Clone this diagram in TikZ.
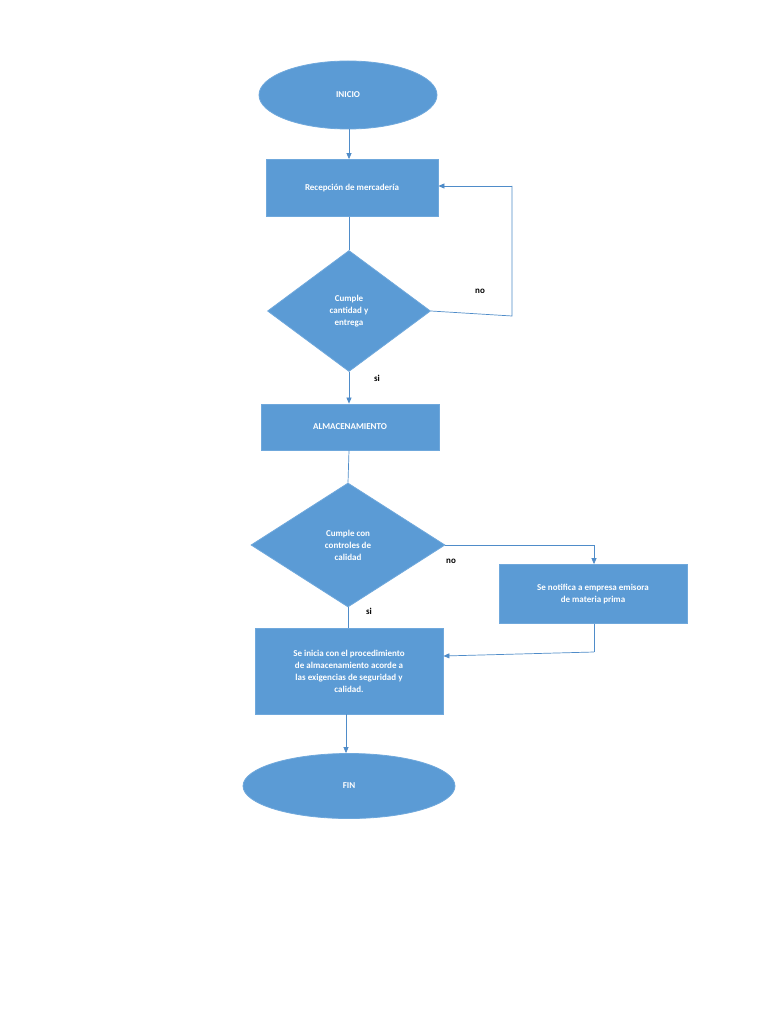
\documentclass[tikz,border=0pt]{standalone}
\usepackage{fontspec}
\setmainfont{Carlito}
\usetikzlibrary{shapes.geometric,arrows.meta}
\definecolor{fillb}{HTML}{5B9BD5}
\definecolor{lineb}{HTML}{6FA8DC}
\definecolor{edgeb}{HTML}{4F8CC9}
\tikzset{
 base/.style={fill=fillb,draw=lineb,line width=0.8pt,text=white,font=\bfseries\fontsize{9}{12}\selectfont,align=center,inner sep=0pt},
 terminal/.style={base,ellipse},
 proc/.style={base,rectangle},
 decis/.style={base,diamond},
 conn/.style={draw=edgeb,line width=0.7pt},
 arr/.style={conn,-{Triangle[length=6pt,width=5pt]}},
 lbl/.style={font=\bfseries\fontsize{9}{11}\selectfont}
}
\begin{document}
\begin{tikzpicture}[x=1pt,y=-1pt]
\useasboundingbox[fill=white] (0,0) rectangle (768,1024);
\node[terminal,minimum width=178,minimum height=68] (ini) at (348,95) {INICIO};
\node[proc,minimum width=172,minimum height=57] (rec) at (352,188) {Recepción de mercadería};
\node[decis,minimum width=163,minimum height=121] (d1) at (349,311) {Cumple\\cantidad y\\entrega};
\node[proc,minimum width=178,minimum height=46] (alm) at (350,427) {ALMACENAMIENTO};
\node[decis,minimum width=194,minimum height=124] (d2) at (348,545) {Cumple con\\controles de\\calidad};
\node[proc,minimum width=188,minimum height=59] (not) at (593,594) {Se notifica a empresa emisora\\de materia prima};
\node[proc,minimum width=188,minimum height=86] (sei) at (349,671) {Se inicia con el procedimiento\\de almacenamiento acorde a\\las exigencias de seguridad y\\calidad.};
\node[terminal,minimum width=212,minimum height=65] (fin) at (349,786) {FIN};
\coordinate (c1) at (512,316);
\coordinate (c2) at (512,186);
\coordinate (c3) at (594,545);
\coordinate (c4) at (594,652);
\draw[arr] (ini.south -| 349,0) -- (rec.north -| 349,0);
\draw[conn] (rec.south -| 349,0) -- (d1.north);
\draw[conn] (d1.east) -- (c1) -- (c2);
\draw[arr] (c2) -- (rec.east |- c2);
\draw[arr] (d1.south) -- (alm.north -| d1.south);
\draw[conn] (alm.south -| 349,0) -- (d2.north);
\draw[conn] (d2.east) -- (c3);
\draw[arr] (c3) -- (not.north -| c3);
\draw[conn] (not.south -| c4) -- (c4);
\draw[arr] (c4) -- (sei.east |- 0,656);
\draw[conn] (d2.south) -- (sei.north -| d2.south);
\draw[arr] (sei.south -| 346,0) -- (fin.north -| 346,0);
\node[lbl] (no1) at (480,291) {no};
\node[lbl] (si1) at (377,378) {si};
\node[lbl] (no2) at (451,561) {no};
\node[lbl] (si2) at (369,611) {si};
\end{tikzpicture}
\end{document}
